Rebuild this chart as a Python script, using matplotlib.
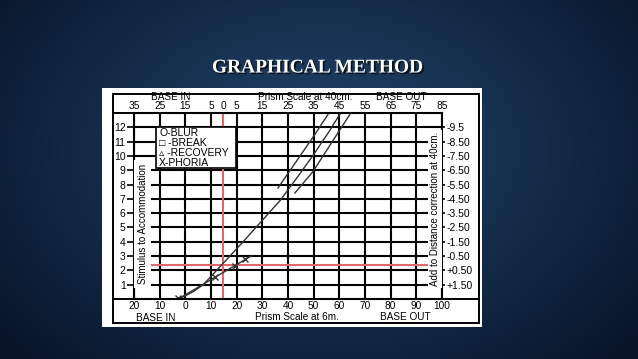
import matplotlib
matplotlib.use("Agg")
import matplotlib.pyplot as plt
import matplotlib.patheffects as pe
from matplotlib.patches import Rectangle
from matplotlib.lines import Line2D
import numpy as np

W, H = 638, 359

# prism scale at 6m (bottom) and the matching 40cm readings (top)
six_m_ticks = [-20, -10, 0, 10, 20, 30, 40, 50, 60, 70, 80, 90, 100]
six_m_labels = ['20', '10', '0', '10', '20', '30', '40', '50', '60', '70', '80', '90', '100']
forty_cm_ticks = [-20, -10, 0, 10, 15, 20, 30, 40, 50, 60, 70, 80, 90, 100]
forty_cm_labels = ['35', '25', '15', '5', '0', '5', '15', '25', '35', '45', '55', '65', '75', '85']

# stimulus to accommodation (left) and add to distance correction (right)
stimulus_ticks = [1, 2, 3, 4, 5, 6, 7, 8, 9, 10, 11, 12]
stimulus_labels = ['1', '2', '3', '4', '5', '6', '7', '8', '9', '10', '11', '12']
add_labels = ['+1.50', '+0.50', '-0.50', '-1.50', '-2.50', '-3.50', '-4.50',
              '-5.50', '-6.50', '-7.50', '-8.50', '-9.5']

# long curve through the near point
curve_x = [-2, 3, 7, 14, 22, 30, 37, 44, 50, 56, 61]
curve_y = [0.05, 0.5, 1.0, 2.35, 3.9, 5.5, 6.9, 8.6, 10.1, 11.7, 13.15]
# the two short lines either side of it
left_x = [36.1, 49.7, 56.5]
left_y = [7.76, 11.3, 13.15]
right_x = [42.7, 49.7, 65.0]
right_y = [7.41, 8.9, 13.15]
# phoria line and its marks
phoria_x = [-2.8, 25.9]
phoria_y = [0.0, 3.03]
phoria_pts_x = [-2.8, 11.6, 19.4, 23.2]
phoria_pts_y = [0.05, 1.52, 2.31, 2.78]

# 40cm working distance
near_prism = 14.5
near_stim = 2.4

fig = plt.figure(figsize=(W / 100, H / 100), dpi=100)

# slide background
bg = fig.add_axes([0, 0, 1, 1], zorder=-2)
yy, xx = np.mgrid[0:H, 0:W]
r = np.sqrt(((xx - 320) / 420) ** 2 + ((yy - 150) / 300) ** 2)
r = np.clip(r, 0, 1)
c0 = np.array([34, 70, 110]) / 255
c1 = np.array([8, 20, 40]) / 255
img = c0[None, None, :] * (1 - r[..., None]) + c1[None, None, :] * r[..., None]
bg.imshow(img, aspect='auto', extent=[0, 1, 0, 1])
bg.axis('off')

fig.text(318 / W, 1 - 68 / H, 'GRAPHICAL METHOD', ha='center', va='center',
         color='white', fontsize=14, fontweight='bold', family='Liberation Serif',
         path_effects=[pe.SimplePatchShadow(offset=(1.2, -1.2), shadow_rgbFace='black', alpha=0.7),
                       pe.Normal()])

# white picture and its frame
fig.add_artist(Rectangle((102 / W, 1 - 327 / H), 380 / W, 239 / H,
                         transform=fig.transFigure, fc='white', ec='none', zorder=-1))
fig.add_artist(Rectangle((113 / W, 1 - 323 / H), 366 / W, 229 / H,
                         transform=fig.transFigure, fill=False, ec='black', lw=1.4, zorder=5))
fig.add_artist(Line2D([113 / W, 442 / W], [1 - 113 / H, 1 - 113 / H],
                      transform=fig.transFigure, color='black', lw=1.4, zorder=5))
fig.add_artist(Line2D([113 / W, 479 / W], [1 - 299 / H, 1 - 299 / H],
                      transform=fig.transFigure, color='black', lw=1.4, zorder=5))

ax = fig.add_axes([134 / W, 1 - 299 / H, 308 / W, 186 / H])
ax.set_xlim(-20, 100)
ax.set_ylim(0, 13)
ax.set_axisbelow(True)
ax.grid(True, color='black', lw=1.5)
for s in ax.spines.values():
    s.set_linewidth(1.5)

ax.set_xticks(six_m_ticks)
ax.set_xticklabels(six_m_labels)
ax.set_yticks(stimulus_ticks)
ax.set_yticklabels(stimulus_labels)
ax.tick_params(axis='x', length=0, pad=1.5, labelsize=7.3)
ax.tick_params(axis='y', length=5, width=1.2, pad=1, labelsize=7.5)

ax_top = ax.twiny()
ax_top.set_xlim(-20, 100)
ax_top.set_xticks(forty_cm_ticks)
ax_top.set_xticklabels(forty_cm_labels)
ax_top.tick_params(axis='x', length=0, pad=1.5, labelsize=7.3)

ax_right = ax.twinx()
ax_right.set_ylim(0, 13)
ax_right.set_yticks(stimulus_ticks)
ax_right.set_yticklabels(add_labels)
ax_right.tick_params(axis='y', length=2.5, width=1.2, pad=1, labelsize=7.5)
for a in (ax_top, ax_right):
    for s in a.spines.values():
        s.set_visible(False)

ax.axvline(near_prism, color='#e06868', lw=1.5, zorder=1.5)
ax.axhline(near_stim, color='#e06868', lw=1.5, zorder=1.5)

line_kw = dict(color='#333333', lw=1.0, zorder=2)
ax.plot(curve_x, curve_y, **line_kw)
ax.plot(left_x, left_y, **line_kw)
ax.plot(right_x, right_y, **line_kw)
ax.plot(phoria_x, phoria_y, **line_kw)
ax.plot(phoria_pts_x, phoria_pts_y, ls='none', marker='x', ms=4, mew=1.0,
        color='#333333', zorder=2)

narrow = ['Liberation Sans Narrow', 'Liberation Sans', 'DejaVu Sans']
ax.text(0.029, 0.403, 'Stimulus to Accommodation', transform=ax.transAxes,
        rotation=90, ha='center', va='center', fontsize=7, family=narrow, zorder=3,
        bbox=dict(fc='white', ec='none', pad=2.5))
ax.text(0.977, 0.484, 'Add to Distance correction at 40cm.', transform=ax.transAxes,
        rotation=90, ha='center', va='center', fontsize=7, family=narrow, zorder=3,
        bbox=dict(fc='white', ec='none', pad=1.5))

# key box
ax.add_patch(Rectangle((0.071, 0.705), 0.26, 0.22, transform=ax.transAxes,
                       fc='white', ec='black', lw=1.2, zorder=3))
key_rows = ['O-BLUR', '\u25a1 -BREAK', '\u25b5 -RECOVERY', 'X-PHORIA']
for i, row in enumerate(key_rows):
    ax.text(0.082, 0.895 - i * 0.054, row, transform=ax.transAxes, ha='left', va='center',
            fontsize=7.5, family=['Liberation Sans', 'DejaVu Sans'], zorder=4)

for a in (ax, ax_top, ax_right):
    for lab in a.get_xticklabels() + a.get_yticklabels():
        lab.set_family('Liberation Sans')

head_kw = dict(ha='center', va='center', fontsize=7.2, family='Liberation Sans')
fig.text(171 / W, 1 - 97 / H, 'BASE IN', **head_kw)
fig.text(305 / W, 1 - 97 / H, 'Prism Scale at 40cm.', **head_kw)
fig.text(401 / W, 1 - 97 / H, 'BASE OUT', **head_kw)
fig.text(156 / W, 1 - 318 / H, 'BASE IN', **head_kw)
fig.text(297 / W, 1 - 316.5 / H, 'Prism Scale at 6m.', **head_kw)
fig.text(405 / W, 1 - 317.5 / H, 'BASE OUT', **head_kw)

fig.savefig('out.png', dpi=100)
